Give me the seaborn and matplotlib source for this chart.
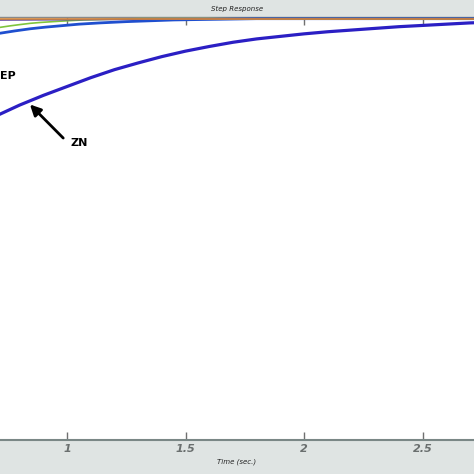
import pandas as pd
import seaborn as sns
import matplotlib.pyplot as plt

# values (time in sec, normalised response)
zn_t = [0.7, 0.8, 0.9, 1.0, 1.1, 1.2, 1.3, 1.4, 1.5, 1.6, 1.7,
        1.8, 1.9, 2.0, 2.1, 2.2, 2.3, 2.4, 2.5, 2.6, 2.7, 2.75]
zn_y = [0.769, 0.795, 0.818, 0.839, 0.860, 0.879, 0.895, 0.910, 0.923, 0.934, 0.944,
        0.952, 0.958, 0.964, 0.969, 0.973, 0.977, 0.981, 0.984, 0.987, 0.990, 0.991]

pid_t = [0.7, 0.780, 0.844, 0.910, 0.970, 1.050, 1.139, 1.250, 1.350, 1.450, 1.561, 1.800, 2.75]
pid_y = [0.964, 0.971, 0.976, 0.980, 0.983, 0.987, 0.990, 0.993, 0.995, 0.997, 0.998, 1.0, 1.0]

gr_t = [0.7, 0.760, 0.801, 0.845, 0.886, 0.940, 1.0, 1.070, 1.139, 1.300, 2.75]
gr_y = [0.978, 0.983, 0.986, 0.989, 0.991, 0.993, 0.995, 0.997, 0.998, 1.0, 1.0]

pu_t = [0.7, 1.100, 1.400, 1.700, 2.75]
pu_y = [0.997, 0.998, 0.999, 1.0, 1.0]

or_t = [0.7, 2.75]
or_y = [1.0, 1.0]

xticks = [1, 1.5, 2, 2.5]
xtick_labels = ["1", "1.5", "2", "2.5"]

curves = [
    ("ZN", zn_t, zn_y, "#2b1fc4", 2.3),
    ("PID", pid_t, pid_y, "#1f4fcf", 2.0),
    ("GR", gr_t, gr_y, "#7fc43c", 1.2),
    ("PU", pu_t, pu_y, "#5a3a9a", 1.2),
    ("OR", or_t, or_y, "#d4883a", 1.2),
]

sns.set_style("white")
plt.rcParams['font.family'] = ['DejaVu Sans']

fig = plt.figure(figsize=(4.74, 4.74), dpi=100)
fig.patch.set_facecolor("#dfe4e3")
ax = fig.add_axes([0, 34 / 474, 1, 423 / 474])
ax.set_facecolor("white")

for name, t, y, col, lw in curves:
    df = pd.DataFrame({"t": t, "y": y})
    sns.lineplot(data=df, x="t", y="y", color=col, linewidth=lw, ax=ax,
                 zorder=3 if name != "ZN" else 4)

ax.set_xlim(0.717, 2.717)
ax.set_ylim(0, 1.004)
ax.set_xticks(xticks)
ax.set_xticklabels(xtick_labels, fontsize=8, fontweight="bold", style="italic", color="#6a6f6f")
ax.set_yticks([])
ax.set_xlabel("")
ax.set_ylabel("")
ax.tick_params(axis="x", direction="in", length=6, width=1, color="#707070",
               top=True, bottom=True, pad=3)

for s in ["left", "right"]:
    ax.spines[s].set_visible(False)
ax.spines["bottom"].set_color("#7a8786")
ax.spines["bottom"].set_linewidth(1.5)
ax.spines["top"].set_color("#8a8a8a")
ax.spines["top"].set_linewidth(1.0)

# annotations
ax.annotate("", xy=(0.835, 0.801), xytext=(0.992, 0.712),
            arrowprops=dict(arrowstyle="-|>", color="black", lw=2, mutation_scale=16))
ax.text(1.05, 0.706, "ZN", fontsize=8, fontweight="bold", ha="center", va="center",
        color="black")
ax.text(0.717, 0.863, "EP", fontsize=8, fontweight="bold", ha="left", va="center",
        color="black")

fig.text(0.5, (474 - 9) / 474, "Step Response", fontsize=5, style="italic",
         ha="center", va="center", color="#222222")
fig.text(0.5, (474 - 462) / 474, "Time (sec.)", fontsize=5, style="italic",
         ha="center", va="center", color="#222222")

fig.savefig("out.png", dpi=100, facecolor=fig.get_facecolor())
